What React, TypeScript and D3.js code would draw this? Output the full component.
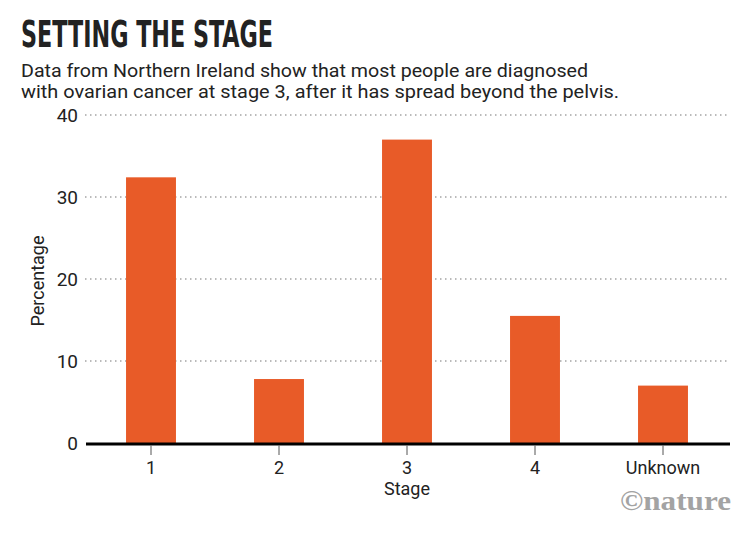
import { useEffect, useRef } from "react";
import * as d3 from "d3";

const stages = ["1", "2", "3", "4", "Unknown"];
const percentages = [32.4, 7.8, 37.0, 15.5, 7.0];
const yTicks = [0, 10, 20, 30, 40];

const titleText = "SETTING THE STAGE";
const subtitleLines = [
  "Data from Northern Ireland show that most people are diagnosed",
  "with ovarian cancer at stage 3, after it has spread beyond the pelvis.",
];

const App = () => {
  const svgRef = useRef<SVGSVGElement>(null);

  useEffect(() => {
    const width = 752;
    const height = 533;
    const font = "Roboto, 'Noto Sans', sans-serif";
    const ink = "#222";

    const svg = d3
      .select(svgRef.current)
      .attr("width", width)
      .attr("height", height)
      .style("position", "absolute")
      .style("left", 0)
      .style("top", 0);

    svg.selectAll("*").remove();
    svg.append("rect").attr("width", width).attr("height", height).attr("fill", "#fff");

    // heading
    svg
      .append("text")
      .attr("x", 21)
      .attr("y", 47)
      .attr("font-family", "'DejaVu Sans Condensed', 'DejaVu Sans', sans-serif")
      .attr("font-weight", "bold")
      .attr("font-size", 37)
      .attr("textLength", 252)
      .attr("lengthAdjust", "spacingAndGlyphs")
      .attr("fill", ink)
      .text(titleText);

    const subLengths = [567, 598];
    subtitleLines.forEach((line, i) => {
      svg
        .append("text")
        .attr("x", 21)
        .attr("y", 77 + i * 21)
        .attr("font-family", font)
        .attr("font-size", 19)
        .attr("textLength", subLengths[i])
        .attr("lengthAdjust", "spacingAndGlyphs")
        .attr("fill", ink)
        .text(line);
    });

    const x = d3
      .scaleBand()
      .domain(stages)
      .range([87, 727])
      .paddingInner(0.61)
      .paddingOuter(0.305);

    const y = d3.scaleLinear().domain([0, 40]).range([443, 115]);

    // gridlines
    svg
      .append("g")
      .selectAll("line")
      .data(yTicks.filter((d) => d > 0))
      .enter()
      .append("line")
      .attr("x1", 85)
      .attr("x2", 730)
      .attr("y1", (d) => y(d))
      .attr("y2", (d) => y(d))
      .attr("stroke", "#777")
      .attr("stroke-width", 1.2)
      .attr("stroke-dasharray", "1.5 3.5");

    svg
      .append("g")
      .selectAll("text")
      .data(yTicks)
      .enter()
      .append("text")
      .attr("x", 78)
      .attr("y", (d) => y(d) + 7)
      .attr("text-anchor", "end")
      .attr("font-family", font)
      .attr("font-size", 19)
      .attr("fill", ink)
      .text((d) => d);

    // bars
    svg
      .append("g")
      .selectAll("rect")
      .data(percentages)
      .enter()
      .append("rect")
      .attr("x", (d, i) => x(stages[i]) || 0)
      .attr("y", (d) => y(d))
      .attr("width", x.bandwidth())
      .attr("height", (d) => y(0) - y(d))
      .attr("fill", "#E85B28");

    // x axis
    svg
      .append("line")
      .attr("x1", 86)
      .attr("x2", 730)
      .attr("y1", y(0) + 1)
      .attr("y2", y(0) + 1)
      .attr("stroke", "#000")
      .attr("stroke-width", 3);

    const xTicks = svg
      .append("g")
      .selectAll("g")
      .data(stages)
      .enter()
      .append("g")
      .attr("transform", (d) => `translate(${(x(d) || 0) + x.bandwidth() / 2},0)`);

    xTicks
      .append("line")
      .attr("y1", y(0) + 2.5)
      .attr("y2", 455)
      .attr("stroke", "#555")
      .attr("stroke-width", 1);

    xTicks
      .append("text")
      .attr("y", 474)
      .attr("text-anchor", "middle")
      .attr("font-family", font)
      .attr("font-size", 18)
      .attr("fill", ink)
      .text((d) => d);

    svg
      .append("text")
      .attr("x", (x("3") || 0) + x.bandwidth() / 2)
      .attr("y", 495)
      .attr("text-anchor", "middle")
      .attr("font-family", font)
      .attr("font-size", 18)
      .attr("fill", ink)
      .text("Stage");

    svg
      .append("text")
      .attr("transform", "translate(44,281) rotate(-90)")
      .attr("text-anchor", "middle")
      .attr("font-family", font)
      .attr("font-size", 18)
      .attr("fill", ink)
      .text("Percentage");

    // logo
    svg
      .append("text")
      .attr("x", 620)
      .attr("y", 510)
      .attr("font-family", "'Liberation Serif', serif")
      .attr("font-weight", "bold")
      .attr("font-size", 28)
      .attr("textLength", 111)
      .attr("lengthAdjust", "spacingAndGlyphs")
      .attr("fill", "#a3a3a3")
      .text("©nature");
  }, []);

  return <svg ref={svgRef} />;
};

export default App;
